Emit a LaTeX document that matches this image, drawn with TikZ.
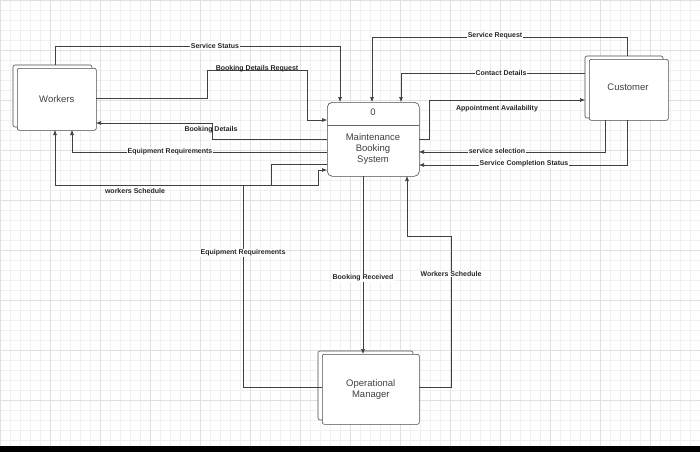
\documentclass[tikz,border=0pt]{standalone}
\usepackage{fontspec}
\setmainfont{Liberation Sans}
\usetikzlibrary{arrows.meta}
\begin{document}
\begin{tikzpicture}[x=1pt,y=-1pt,
  box/.style={draw=black!70,fill=white,rounded corners=2pt,line width=0.6pt},
  flow/.style={draw=black!75,line width=0.6pt,-{Latex[length=5pt,width=4pt]}},
  lbl/.style={font=\fontsize{7}{8}\selectfont\bfseries,text=black!85,fill=white,inner sep=0.5pt},
  txt/.style={font=\fontsize{9.5}{11}\selectfont,text=black!75,align=center}]
\useasboundingbox (0,0) rectangle (700,452);
\fill[white] (0,0) rectangle (700,452);
\foreach \i in {0,10,...,700} \draw[black!6,line width=0.3pt] (\i,0) -- (\i,446);
\foreach \i in {0,10,...,440} \draw[black!6,line width=0.3pt] (0,\i) -- (700,\i);
\foreach \i in {0,50,...,700} \draw[black!12,line width=0.4pt] (\i,0) -- (\i,446);
\foreach \i in {0,50,...,400} \draw[black!12,line width=0.4pt] (0,\i) -- (700,\i);
\fill[black] (0,446) rectangle (700,452);
% entities
\draw[box] (13,65) rectangle (92,127);
\node[box,minimum width=79pt,minimum height=62pt,anchor=north west,inner sep=0] (W) at (17,68) {};
\node[txt] at (W.center) {Workers};
\draw[box] (585,56) rectangle (663,118);
\node[box,minimum width=79pt,minimum height=61pt,anchor=north west,inner sep=0] (C) at (589,59) {};
\node[txt] at (628,87) {Customer};
\draw[box] (318,351) rectangle (413,420);
\node[box,minimum width=97pt,minimum height=70pt,anchor=north west,inner sep=0] (O) at (322,354) {};
\node[txt] at (O.center) {Operational\\Manager};
\node[box,rounded corners=5pt,minimum width=92pt,minimum height=74pt,anchor=north west,inner sep=0] (S) at (327,102) {};
\draw[black!60] (327,125) -- (419,125);
\node[txt] at (373,112) {0};
\node[txt] at (373,149) {Maintenance\\Booking\\System};
% flows
\draw[flow] (55,65) |- (340,46) -- (340,102);
\node[lbl] at (215,46) {Service Status};
\draw[flow] (96,98) -| (207,70) -| (307,120) -- (327,120);
\node[lbl,fill=none] at (257,69) {Booking Details Request};
\draw[flow] (327,139) -| (212,123) -- (96,123);
\node[lbl,fill=none] at (211,130) {Booking Details};
\draw[flow] (327,152) -| (72,130);
\node[lbl] at (170,152) {Equipment Requirements};
\draw[flow] (327,164) -| (271,185) -| (55,130);
\node[lbl,fill=none] at (135,191) {workers Schedule};
\draw[flow] (627,56) |- (372,37) -- (372,102);
\node[lbl] at (495,36) {Service Request};
\draw[flow] (585,73) -| (401,102);
\node[lbl] at (501,73) {Contact Details};
\draw[flow] (419,139) -| (429,100) -- (585,100);
\node[lbl,fill=none] at (497,109) {Appointment Availability};
\draw[flow] (605,120) |- (419,152);
\node[lbl] at (497,151) {service selection};
\draw[flow] (627,120) |- (419,165);
\node[lbl] at (524,164) {Service Completion Status};
\draw[flow] (322,387) -| (243,185) -| (318,170) -- (327,170);
\node[lbl] at (243,253) {Equipment Requirements};
\draw[flow] (363,176) -- (363,354);
\node[lbl] at (363,278) {Booking Received};
\draw[flow] (419,387) -| (451,236) -| (407,176);
\node[lbl] at (451,274) {Workers Schedule};
\end{tikzpicture}
\end{document}
